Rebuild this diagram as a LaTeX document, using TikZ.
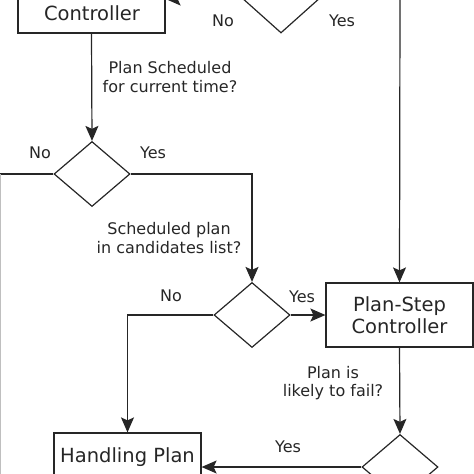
\documentclass[tikz,border=0pt]{standalone}
\usepackage{fontspec}
\setmainfont{DejaVu Sans}
\usetikzlibrary{shapes.geometric,arrows.meta}
\begin{document}
\begin{tikzpicture}[x=1pt,y=-1pt,
  line width=1.2pt, draw=black!85, text=black!85,
  box/.style={draw, rectangle, minimum width=147pt, inner sep=0pt},
  dia/.style={draw, diamond, minimum width=76pt, minimum height=65pt, inner sep=0pt},
  boxtext/.style={font=\fontsize{19.5}{22}\selectfont, align=center, inner sep=0pt},
  lbl/.style={font=\fontsize{16}{18.5}\selectfont, align=center, inner sep=0pt},
  arr/.style={-{Stealth[length=15pt,width=13pt,inset=3pt]}}]
\useasboundingbox (0,0) rectangle (474,474);
% boxes
\node[box, minimum height=74pt] (ctrl) at (91.5,-4) {};
\node[boxtext] (ctrlt) at (92,13) {Controller};
\node[box, minimum height=64pt] (ps) at (399.5,315) {};
\node[boxtext] (pst) at (399.5,315) {Plan-Step\\Controller};
\node[box, minimum height=64pt] (hp) at (127.5,465) {};
\node[boxtext] (hpt) at (127.5,457) {Handling Plan};
% diamonds
\node[dia, minimum height=68pt] (d1) at (281,-1) {};
\node[dia] (d2) at (92,174) {};
\node[dia] (d3) at (252,315) {};
\node[dia] (d4) at (400,467) {};
% helper coordinates
\coordinate (c1) at (400,-1);
\coordinate (c2) at (252,174);
\coordinate (c3) at (0.3,174);
\coordinate (c4) at (0.3,490);
\coordinate (c5) at (127.5,315);
% connectors
\draw[arr] (d1.west) -- (ctrl.east |- d1.west);
\draw[arr] (d1.east) -- (c1) -- (ps.north);
\draw[arr] (ctrl.south) -- (d2.north);
\draw[arr] (d2.east) -- (c2) -- (d3.north);
\draw (d2.west) -- (c3);
\draw[black!25] (c3) -- (c4);
\draw[arr] (d3.east) -- (ps.west);
\draw[arr] (d3.west) -- (c5) -- (hp.north);
\draw[arr] (ps.south) -- (d4.north);
\draw[arr] (d4.west) -- (hp.east |- d4.west);
% labels
\node[lbl] (l1) at (223,21) {No};
\node[lbl] (l2) at (342,21) {Yes};
\node[lbl] (l3) at (170,77) {Plan Scheduled\\for current time?};
\node[lbl] (l4) at (40,153) {No};
\node[lbl] (l5) at (153,153) {Yes};
\node[lbl] (l6) at (169,238) {Scheduled plan\\in candidates list?};
\node[lbl] (l7) at (171,296) {No};
\node[lbl] (l8) at (302,297) {Yes};
\node[lbl] (l9) at (333,383) {Plan is\\likely to fail?};
\node[lbl] (l10) at (288,447) {Yes};
\end{tikzpicture}
\end{document}
